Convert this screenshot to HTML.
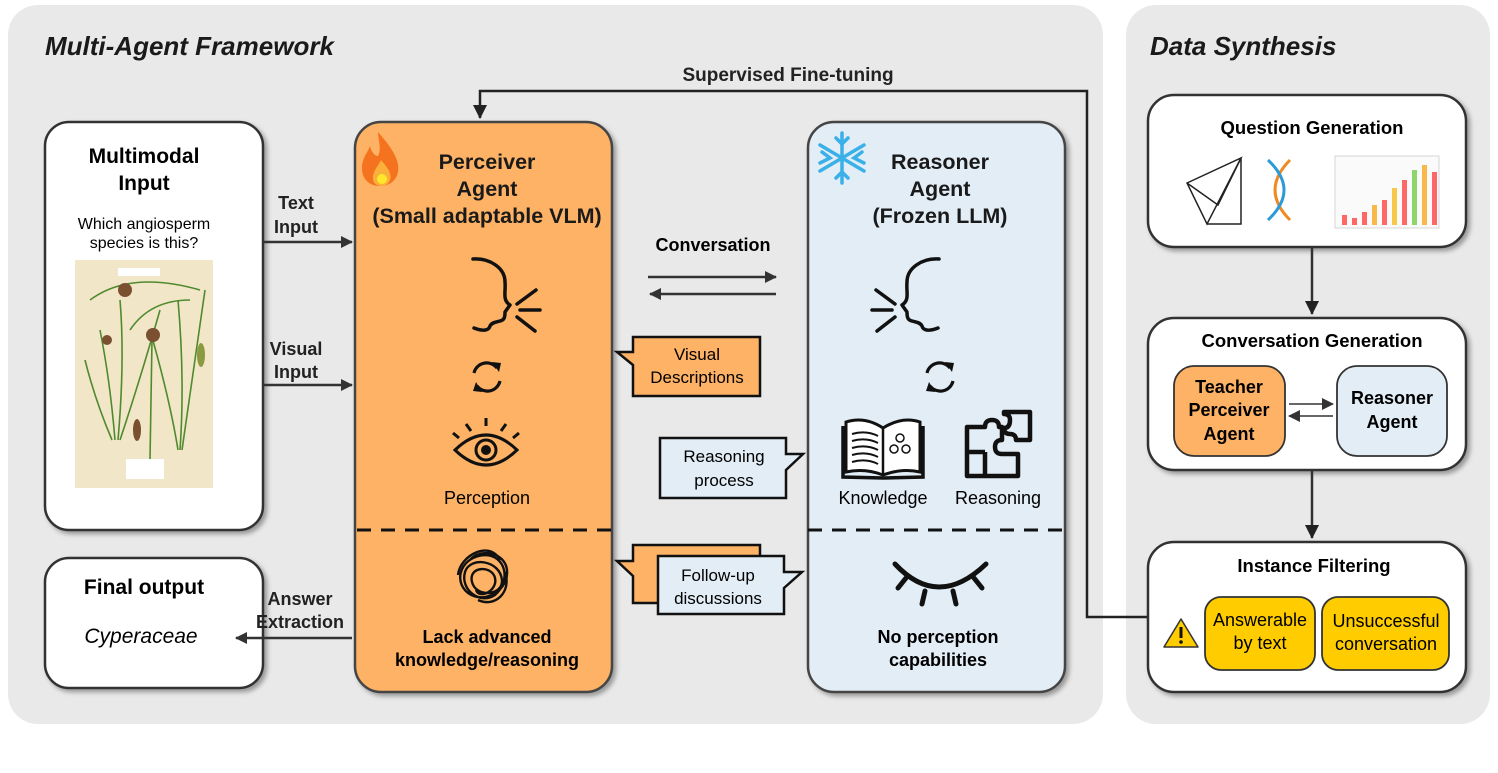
<!DOCTYPE html>
<html><head><meta charset="utf-8"><style>
html,body{margin:0;padding:0;background:#fff;}
svg{display:block;font-family:"Liberation Sans",Arial,sans-serif;}
</style></head><body>
<svg width="1498" height="773" viewBox="0 0 1498 773" xmlns="http://www.w3.org/2000/svg">
<defs>
<filter id="sh" x="-10%" y="-10%" width="130%" height="130%"><feDropShadow dx="3" dy="3" stdDeviation="2.5" flood-color="#000" flood-opacity="0.35"/></filter>
<marker id="ar" markerWidth="12" markerHeight="12" refX="11" refY="6" orient="auto" markerUnits="userSpaceOnUse"><path d="M0,0 L12,6 L0,12 z" fill="#333"/></marker>
<marker id="ar2" markerWidth="14" markerHeight="14" refX="13" refY="7" orient="auto" markerUnits="userSpaceOnUse"><path d="M0,0 L14,7 L0,14 z" fill="#222"/></marker>
</defs>
<rect x="0" y="0" width="1498" height="773" fill="#fff"/>
<rect x="8" y="5" width="1095" height="719" rx="30" fill="#e9e9e9"/>
<rect x="1126" y="5" width="364" height="719" rx="30" fill="#e9e9e9"/>
<text x="45" y="55" font-size="26" font-weight="bold" font-style="italic" fill="#1a1a1a">Multi-Agent Framework</text>
<text x="1150" y="55" font-size="26" font-weight="bold" font-style="italic" fill="#1a1a1a">Data Synthesis</text>

<polyline points="1148,617 1087,617 1087,91 480,91 480,118" fill="none" stroke="#222" stroke-width="2.5" marker-end="url(#ar2)"/>
<text x="788" y="81" font-size="19" font-weight="bold" text-anchor="middle" fill="#222">Supervised Fine-tuning</text>

<rect x="45" y="122" width="218" height="408" rx="24" fill="#fff" stroke="#333" stroke-width="2.5" filter="url(#sh)"/>
<text x="144" y="163" font-size="21" font-weight="bold" text-anchor="middle">Multimodal</text>
<text x="144" y="190" font-size="21" font-weight="bold" text-anchor="middle">Input</text>
<text x="144" y="229" font-size="16" text-anchor="middle">Which angiosperm</text>
<text x="144" y="248" font-size="16" text-anchor="middle">species is this?</text>
<rect x="75" y="260" width="138" height="228" fill="#f1e6c8"/>
<g stroke="#4f8a2e" stroke-width="1.6" fill="none">
<path d="M115,440 Q110,380 100,330"/><path d="M118,440 Q125,360 120,300"/><path d="M120,440 Q140,380 160,310"/>
<path d="M112,440 Q95,400 85,360"/><path d="M180,450 Q185,380 178,300"/><path d="M182,450 Q195,360 205,290"/>
<path d="M178,450 Q170,400 150,330"/><path d="M150,460 L152,340"/><path d="M90,300 Q130,270 200,290"/>
<path d="M130,330 Q150,300 190,300"/>
</g>
<g fill="#7a5030"><circle cx="125" cy="290" r="7"/><circle cx="153" cy="335" r="7"/><circle cx="107" cy="340" r="5"/><ellipse cx="137" cy="430" rx="4" ry="11"/><ellipse cx="201" cy="355" rx="4" ry="12" fill="#8a9a40"/></g>
<rect x="118" y="268" width="42" height="8" fill="#fff"/>
<rect x="126" y="459" width="38" height="20" fill="#fff"/>

<rect x="45" y="558" width="218" height="130" rx="24" fill="#fff" stroke="#333" stroke-width="2.5" filter="url(#sh)"/>
<text x="144" y="594" font-size="21" font-weight="bold" text-anchor="middle">Final output</text>
<text x="141" y="643" font-size="21" font-style="italic" text-anchor="middle">Cyperaceae</text>

<line x1="263" y1="242" x2="352" y2="242" stroke="#333" stroke-width="2.5" marker-end="url(#ar)"/>
<line x1="263" y1="385" x2="352" y2="385" stroke="#333" stroke-width="2.5" marker-end="url(#ar)"/>
<line x1="352" y1="638" x2="236" y2="638" stroke="#333" stroke-width="2.5" marker-end="url(#ar)"/>
<g font-size="18" font-weight="bold" text-anchor="middle" fill="#222">
<text x="296" y="209">Text</text><text x="296" y="233">Input</text>
<text x="296" y="355">Visual</text><text x="296" y="378">Input</text>
<text x="300" y="605">Answer</text><text x="300" y="628">Extraction</text>
</g>

<rect x="355" y="122" width="257" height="570" rx="26" fill="#fdb265" stroke="#444" stroke-width="2.5" filter="url(#sh)"/>
<path d="M378,132 C392,148 400,160 398,172 C396,182 388,186 380,186 C370,186 362,180 362,168 C362,158 368,152 370,146 C372,154 376,156 378,156 C382,148 378,140 378,132z" fill="#f5731f"/>
<path d="M381,160 C388,168 392,174 390,180 C388,185 384,186 381,186 C376,186 372,182 373,176 C374,170 378,166 381,160z" fill="#fbb03b"/>
<circle cx="382" cy="179" r="5" fill="#ffe82a"/>
<g font-size="21.5" font-weight="bold" text-anchor="middle" fill="#1a1a1a">
<text x="487" y="169">Perceiver</text><text x="487" y="196">Agent</text><text x="487" y="223">(Small adaptable VLM)</text>
</g>
<g fill="none" stroke="#111" stroke-width="3.5" stroke-linecap="round" stroke-linejoin="round">
<path d="M473,259 C490,258 505,268 505,282 C506,292 502,300 510,305 L505,312 C505,318 504,320 500,321 C497,322 492,322 490,326 C489,330 484,332 474,328"/>
<line x1="517" y1="304" x2="536" y2="290"/><line x1="520" y1="310" x2="540" y2="310"/><line x1="517" y1="317" x2="535" y2="331"/>
</g>
<g fill="none" stroke="#111" stroke-width="3.2">
<path d="M474,373 A13,13 0 0 1 497,368"/><path d="M500,381 A13,13 0 0 1 477,386"/>
</g>
<path d="M492,362 L501,363 L499,372z M482,392 L473,391 L476,382z" fill="#111"/>
<g fill="none" stroke="#111" stroke-width="3">
<path d="M455,450 Q486,420 517,450 Q486,480 455,450z"/><circle cx="486" cy="450" r="10"/><circle cx="486" cy="450" r="3.5" fill="#111"/>
<line x1="486" y1="418" x2="486" y2="426"/><line x1="466" y1="424" x2="471" y2="431"/><line x1="506" y1="424" x2="501" y2="431"/><line x1="453" y1="433" x2="459" y2="438"/><line x1="519" y1="433" x2="513" y2="438"/>
</g>
<text x="487" y="504" font-size="18" text-anchor="middle">Perception</text>
<line x1="357" y1="530" x2="612" y2="530" stroke="#111" stroke-width="3" stroke-dasharray="14,10"/>
<g fill="none" stroke="#111" stroke-width="2.4">
<path d="M470,560 C480,548 505,552 507,570 C509,590 485,605 468,593 C452,580 462,556 485,555 C505,555 512,580 495,595 C480,605 460,590 465,572 C470,556 500,560 502,580 C503,596 476,598 472,582 C468,566 492,565 495,578 C498,590 480,600 476,590"/>
<path d="M458,575 C460,555 490,540 500,560 M478,600 C495,608 512,592 505,572"/>
</g>
<text x="487" y="643" font-size="18" font-weight="bold" text-anchor="middle">Lack advanced</text>
<text x="487" y="666" font-size="18" font-weight="bold" text-anchor="middle">knowledge/reasoning</text>

<rect x="808" y="122" width="257" height="570" rx="26" fill="#e2edf5" stroke="#444" stroke-width="2.5" filter="url(#sh)"/>
<g stroke="#3ab0e8" stroke-width="3.5" stroke-linecap="round" fill="none">
<line x1="842" y1="133" x2="842" y2="183"/><line x1="820" y1="145" x2="864" y2="171"/><line x1="820" y1="171" x2="864" y2="145"/>
<path d="M836,138 L842,144 L848,138 M836,178 L842,172 L848,178 M822,152 L830,158 L820,163 M862,152 L854,158 L864,163"/>
</g>
<g font-size="21.5" font-weight="bold" text-anchor="middle" fill="#1a1a1a">
<text x="940" y="169">Reasoner</text><text x="940" y="196">Agent</text><text x="940" y="223">(Frozen LLM)</text>
</g>
<g fill="none" stroke="#111" stroke-width="3.5" stroke-linecap="round" stroke-linejoin="round" transform="translate(1394,0) scale(-1,1)">
<path d="M455,259 C472,258 487,268 487,282 C488,292 484,300 492,305 L487,312 C487,318 486,320 482,321 C479,322 474,322 472,326 C471,330 466,332 456,328"/>
<line x1="499" y1="304" x2="518" y2="290"/><line x1="502" y1="310" x2="522" y2="310"/><line x1="499" y1="317" x2="517" y2="331"/>
</g>
<g fill="none" stroke="#111" stroke-width="3.2">
<path d="M927,373 A13,13 0 0 1 950,368"/><path d="M953,381 A13,13 0 0 1 930,386"/>
</g>
<path d="M945,362 L954,363 L952,372z M935,392 L926,391 L929,382z" fill="#111"/>
<g fill="none" stroke="#111" stroke-width="2.5">
<path d="M846,422 Q865,416 883,428 Q902,416 920,422 L920,472 Q902,468 883,475 Q865,468 846,472z" fill="#fff" stroke-width="3"/>
<path d="M843,426 L843,477 L883,478 L923,477 L923,426" stroke-width="3.5"/>
<line x1="883" y1="428" x2="883" y2="475"/>
<path d="M852,434 Q866,430 878,436 M852,441 Q866,437 878,443 M852,448 Q866,444 878,450 M852,455 Q866,451 878,457 M852,462 Q866,458 878,464" stroke-width="2"/>
<circle cx="900" cy="438" r="4" stroke-width="1.5"/><circle cx="894" cy="449" r="4" stroke-width="1.5"/><circle cx="906" cy="449" r="4" stroke-width="1.5"/>
</g>
<g fill="none" stroke="#111" stroke-width="4.5" stroke-linejoin="round">
<path d="M967,427 L985,427 Q985,420 992,420 Q999,420 999,427 L1002,427 L1002,440 Q995,440 995,447 Q995,454 1002,454 L1018,454 L1018,476 L967,476z"/>
<path d="M1004,412 L1030,412 L1030,440 L1016,440 Q1016,434 1010,434 Q1004,434 1004,428 Q1010,428 1010,420 Q1010,414 1004,414z"/>
<line x1="967" y1="452" x2="985" y2="452"/><line x1="985" y1="452" x2="985" y2="476"/>
</g>
<text x="883" y="504" font-size="18" text-anchor="middle">Knowledge</text>
<text x="998" y="504" font-size="18" text-anchor="middle">Reasoning</text>
<line x1="808" y1="530" x2="1065" y2="530" stroke="#111" stroke-width="3" stroke-dasharray="14,10"/>
<g fill="none" stroke="#111" stroke-width="5" stroke-linecap="round">
<path d="M895,564 Q938,610 986,564"/><line x1="906" y1="578" x2="898" y2="588"/><line x1="925" y1="591" x2="922" y2="604"/><line x1="953" y1="591" x2="956" y2="604"/><line x1="974" y1="578" x2="982" y2="588"/>
</g>
<text x="938" y="643" font-size="18" font-weight="bold" text-anchor="middle">No perception</text>
<text x="938" y="666" font-size="18" font-weight="bold" text-anchor="middle">capabilities</text>

<text x="713" y="251" font-size="18" font-weight="bold" text-anchor="middle">Conversation</text>
<line x1="648" y1="277" x2="776" y2="277" stroke="#333" stroke-width="2.5" marker-end="url(#ar)"/>
<line x1="776" y1="294" x2="650" y2="294" stroke="#333" stroke-width="2.5" marker-end="url(#ar)"/>

<path d="M633,337 L760,337 L760,396 L633,396 L633,365 L617,352 L633,352z" fill="#fdb265" stroke="#111" stroke-width="2.5"/>
<text x="697" y="360" font-size="17" text-anchor="middle">Visual</text>
<text x="697" y="383" font-size="17" text-anchor="middle">Descriptions</text>
<path d="M660,438 L786,438 L786,454 L803,454 L786,470 L786,498 L660,498z" fill="#e2edf5" stroke="#111" stroke-width="2.5"/>
<text x="724" y="462" font-size="17" text-anchor="middle">Reasoning</text>
<text x="724" y="486" font-size="17" text-anchor="middle">process</text>
<path d="M633,545 L760,545 L760,603 L633,603 L633,576 L617,561 L633,561z" fill="#fdb265" stroke="#111" stroke-width="2.5"/>
<path d="M658,556 L784,556 L784,572 L802,572 L784,588 L784,614 L658,614z" fill="#e2edf5" stroke="#111" stroke-width="2.5"/>
<text x="718" y="581" font-size="17" text-anchor="middle">Follow-up</text>
<text x="718" y="604" font-size="17" text-anchor="middle">discussions</text>

<rect x="1148" y="95" width="318" height="152" rx="26" fill="#fff" stroke="#333" stroke-width="2.5" filter="url(#sh)"/>
<text x="1312" y="134" font-size="18.5" font-weight="bold" text-anchor="middle">Question Generation</text>
<g fill="none" stroke="#222" stroke-width="1.5">
<path d="M1187,183 L1241,158 L1207,224z"/><path d="M1187,183 L1218,205 L1241,158 M1241,158 L1241,224 L1207,224"/>
</g>
<g stroke-width="3" fill="none">
<path d="M1290,160 Q1260,190 1290,220" stroke="#f08a20"/><path d="M1268,160 Q1300,190 1268,220" stroke="#2a9ad8"/>
</g>
<rect x="1335" y="156" width="104" height="72" fill="#fafafa" stroke="#ccc" stroke-width="0.8"/>
<g>
<rect x="1342" y="215" width="5" height="10" fill="#f66"/><rect x="1352" y="218" width="5" height="7" fill="#f66"/><rect x="1362" y="212" width="5" height="13" fill="#f66"/>
<rect x="1372" y="205" width="5" height="20" fill="#f8b84a"/><rect x="1382" y="200" width="5" height="25" fill="#f66"/><rect x="1392" y="188" width="5" height="37" fill="#f8c84a"/>
<rect x="1402" y="180" width="5" height="45" fill="#f66"/><rect x="1412" y="170" width="5" height="55" fill="#8cd66a"/><rect x="1422" y="165" width="5" height="60" fill="#f8b84a"/><rect x="1432" y="172" width="5" height="53" fill="#f66"/>
</g>
<line x1="1312" y1="247" x2="1312" y2="314" stroke="#333" stroke-width="2.5" marker-end="url(#ar2)"/>
<rect x="1148" y="318" width="318" height="152" rx="26" fill="#fff" stroke="#333" stroke-width="2.5" filter="url(#sh)"/>
<text x="1312" y="347" font-size="18.5" font-weight="bold" text-anchor="middle">Conversation Generation</text>
<rect x="1174" y="366" width="111" height="90" rx="20" fill="#fdb265" stroke="#333" stroke-width="1.8"/>
<g font-size="18" font-weight="bold" text-anchor="middle"><text x="1229" y="393">Teacher</text><text x="1229" y="416">Perceiver</text><text x="1229" y="440">Agent</text></g>
<rect x="1337" y="366" width="110" height="90" rx="20" fill="#e2edf5" stroke="#333" stroke-width="1.8"/>
<g font-size="18" font-weight="bold" text-anchor="middle"><text x="1392" y="404">Reasoner</text><text x="1392" y="428">Agent</text></g>
<line x1="1289" y1="404" x2="1333" y2="404" stroke="#333" stroke-width="1.5" marker-end="url(#ar)"/>
<line x1="1333" y1="416" x2="1289" y2="416" stroke="#333" stroke-width="1.5" marker-end="url(#ar)"/>
<line x1="1312" y1="470" x2="1312" y2="538" stroke="#333" stroke-width="2.5" marker-end="url(#ar2)"/>
<rect x="1148" y="542" width="318" height="150" rx="26" fill="#fff" stroke="#333" stroke-width="2.5" filter="url(#sh)"/>
<text x="1314" y="572" font-size="18.5" font-weight="bold" text-anchor="middle">Instance Filtering</text>
<path d="M1181,619 L1198,647 L1164,647z" fill="#fc0" stroke="#333" stroke-width="1.5" stroke-linejoin="round"/>
<rect x="1179.5" y="627" width="3" height="11" fill="#111"/><circle cx="1181" cy="642" r="1.8" fill="#111"/>
<rect x="1205" y="597" width="110" height="73" rx="16" fill="#ffcc00" stroke="#333" stroke-width="1.8"/>
<text x="1260" y="626" font-size="18" text-anchor="middle">Answerable</text><text x="1260" y="649" font-size="18" text-anchor="middle">by text</text>
<rect x="1322" y="597" width="127" height="73" rx="16" fill="#ffcc00" stroke="#333" stroke-width="1.8"/>
<text x="1386" y="627" font-size="18" text-anchor="middle">Unsuccessful</text><text x="1386" y="650" font-size="18" text-anchor="middle">conversation</text>
</svg>
</body></html>
